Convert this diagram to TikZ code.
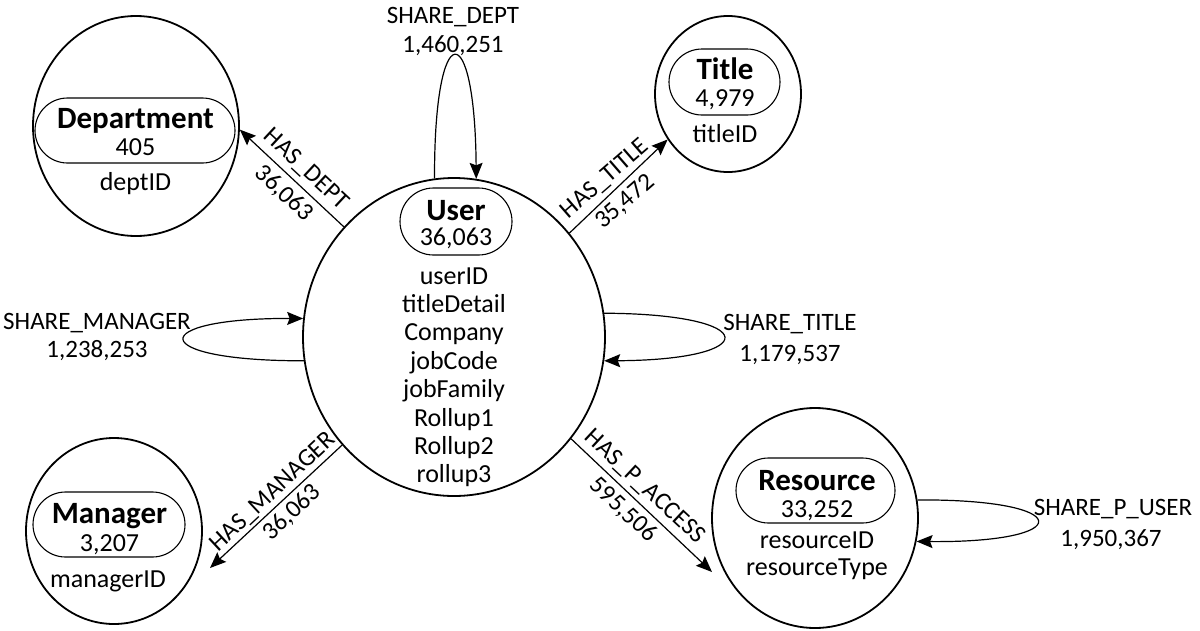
\documentclass[tikz,border=0pt]{standalone}
\usepackage{fontspec}
\setmainfont{Carlito}
\usetikzlibrary{shapes.geometric,shapes.misc,arrows.meta}
\begin{document}
\begin{tikzpicture}[x=1pt,y=-1pt,
  entity/.style={draw, ellipse, line width=1.8pt, inner sep=0pt},
  stadium/.style={draw, rounded rectangle, line width=1.1pt, inner sep=0pt},
  ttl/.style={font=\fontsize{31}{34}\selectfont\bfseries, anchor=base, inner sep=0pt},
  cnt/.style={font=\fontsize{26}{30}\selectfont, anchor=base, inner sep=0pt},
  attr/.style={font=\fontsize{26}{30}\selectfont, anchor=base, inner sep=0pt},
  lbl/.style={inner sep=0pt, align=center},
  lblb/.style={font=\fontsize{25}{29}\selectfont, inner sep=0pt, anchor=base},
  conn/.style={line width=1.2pt, -{Stealth[length=16pt,width=13pt,inset=2.5pt]}},
]
\useasboundingbox (0,0) rectangle (1200,630);

% entities
\node[entity, minimum width=302pt, minimum height=318pt] (user) at (454,337) {};
\node[entity, minimum width=206pt, minimum height=220pt] (dept) at (136,126) {};
\node[entity, minimum width=146pt, minimum height=156pt] (title) at (728,94) {};
\node[entity, minimum width=176pt, minimum height=186pt] (manager) at (114,531) {};
\node[entity, minimum width=206pt, minimum height=220pt] (resource) at (815,518) {};

% stadiums
\node[stadium, minimum width=112pt, minimum height=67pt] (userbox) at (456,221.5) {};
\node[stadium, minimum width=200pt, minimum height=65pt] (deptbox) at (135,130.5) {};
\node[stadium, minimum width=111pt, minimum height=66pt] (titlebox) at (724.5,82) {};
\node[stadium, minimum width=152pt, minimum height=65pt] (managerbox) at (109,524.5) {};
\node[stadium, minimum width=159pt, minimum height=65pt] (resourcebox) at (815.5,490.5) {};

% texts
\node[ttl] (usert) at (456,220) {User};
\node[cnt] (userc) at (456,245) {36,063};
\foreach \t [count=\i] in {userID,titleDetail,Company,jobCode,jobFamily,Rollup1,Rollup2,rollup3}
  \node[attr] (ua\i) at (454,{284+28.4*(\i-1)}) {\t};

\node[ttl] (deptt) at (135.5,128) {Department};
\node[cnt] (deptc) at (135.5,155) {405};
\node[attr] (depta) at (135.5,190) {deptID};

\node[ttl] (titlet) at (725,79) {Title};
\node[cnt] (titlec) at (725,106) {4,979};
\node[attr] (titlea) at (725,142) {titleID};

\node[ttl] (managert) at (109.5,523) {Manager};
\node[cnt] (managerc) at (109.5,551) {3,207};
\node[attr] (managera) at (108,587) {managerID};

\node[ttl] (resourcet) at (817,490) {Resource};
\node[cnt] (resourcec) at (817,517) {33,252};
\node[attr] (resourcea1) at (817,548) {resourceID};
\node[attr] (resourcea2) at (817,575) {resourceType};

% free ends
\coordinate (mgrend) at (210,568);
\coordinate (resend) at (712,572);

% straight connectors
\draw[conn] (user.135) -- (dept.-2);
\draw[conn] (user.42.4) -- (title.217.5);
\draw[conn] (user.224) -- (mgrend);
\draw[conn] (user.-41.4) -- (resend);

% loops
\draw[conn] (user.97.5) .. controls (434,15) and (475,15) .. (user.82);
\draw[conn] (user.189) .. controls (145,361) and (145,318) .. (user.173);
\draw[conn] (user.9) .. controls (763,314) and (763,360) .. (user.-9);
\draw[conn] (resource.10.5) .. controls (1077,499) and (1077,543) .. (resource.-13.8);

% connector labels
\node[lbl, rotate=-43, font=\fontsize{25}{33}\selectfont] (l1) at (295,181.5) {HAS\_DEPT\\36,063};
\node[lbl, rotate=41, font=\fontsize{25}{30.5}\selectfont] (l2) at (615,190.5) {HAS\_TITLE\\35,472};
\node[lbl, rotate=43, font=\fontsize{25}{28.5}\selectfont] (l3) at (282.5,502.5) {HAS\_MANAGER\\36,063};
\node[lbl, rotate=-43, font=\fontsize{25}{32}\selectfont] (l4) at (634,498.5) {HAS\_P\_ACCESS\\595,506};

\node[lblb] (l5a) at (453,23) {SHARE\_DEPT};
\node[lblb] (l5b) at (453,52) {1,460,251};
\node[lblb] (l6a) at (97,329) {SHARE\_MANAGER};
\node[lblb] (l6b) at (97,357) {1,238,253};
\node[lblb] (l7a) at (790,330) {SHARE\_TITLE};
\node[lblb] (l7b) at (790,361) {1,179,537};
\node[lblb] (l8a) at (1113,515) {SHARE\_P\_USER};
\node[lblb] (l8b) at (1111,546) {1,950,367};
\end{tikzpicture}
\end{document}
